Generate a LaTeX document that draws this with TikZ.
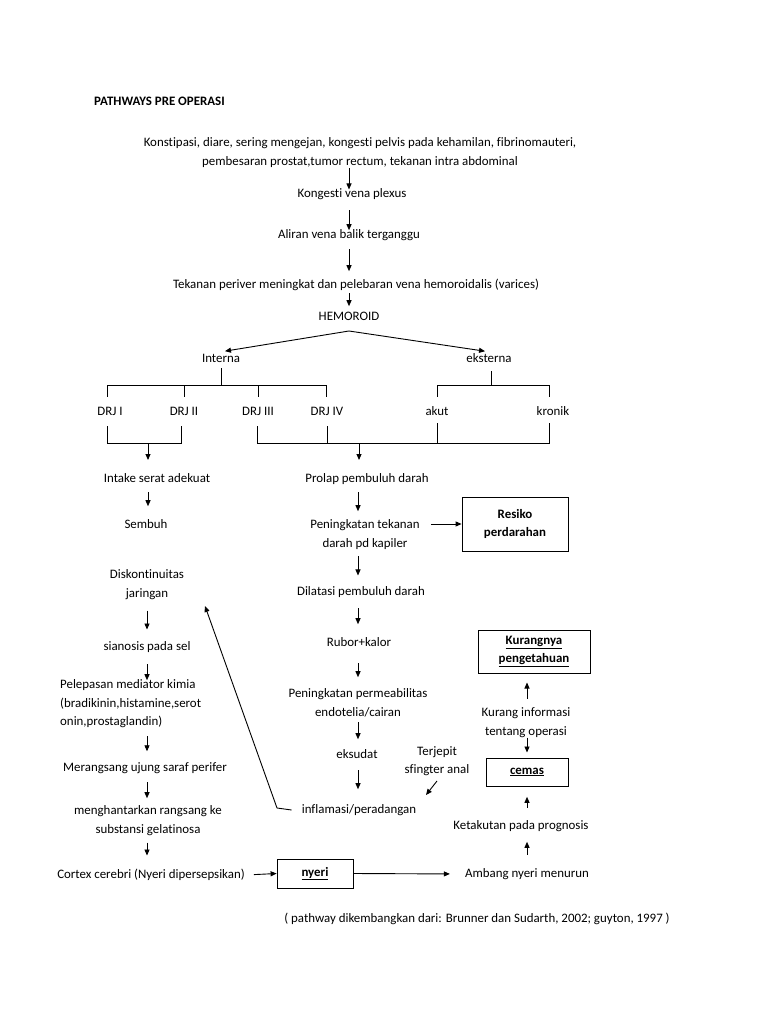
\documentclass[tikz,border=0pt]{standalone}
\usepackage{fontspec}
\setmainfont{Carlito}[Ligatures=NoCommon]
\usepackage{tikz}
\usetikzlibrary{arrows.meta, calc}

\tikzset{
  txtm/.style={inner sep=1pt, align=center, yshift=-2pt, font=\fontsize{12.9}{18.5}\selectfont},
  txt/.style={txtm, text height=9pt, text depth=3pt},
  boxnode/.style={inner sep=1pt, align=center, draw, line width=0.8pt, font=\fontsize{12.9}{18.5}\selectfont\bfseries},
  arr/.style={-{Triangle[length=6pt,width=5pt]}, line width=0.9pt},
  bar/.style={line width=0.8pt}
}

\begin{document}
\begin{tikzpicture}[x=1pt, y=-1pt]
    \fill[white] (0,0) rectangle (768,1024);
    \useasboundingbox (0,0) rectangle (768,1024);

    % Title
    \node[txt, anchor=west, font=\fontsize{12.9}{18.5}\selectfont\bfseries] (title) at (93,101) {PATHWAYS PRE OPERASI};

    % Top chain
    \node[txtm] (konst) at (360,150.5) {Konstipasi, diare, sering mengejan, kongesti pelvis pada kehamilan, fibrinomauteri,\\pembesaran prostat,tumor rectum, tekanan intra abdominal};
    \node[txt] (kongesti) at (352,193) {Kongesti vena plexus};
    \node[txt] (aliran) at (349,234) {Aliran vena balik terganggu};
    \node[txt] (tekanan) at (356,283) {Tekanan periver meningkat dan pelebaran vena hemoroidalis (varices)};
    \node[txt] (hemo) at (349,315) {HEMOROID};

    \coordinate (cA) at (349,0);
    \draw[arr] (konst.south -| cA) ++(0,0) -- ++(0,21);
    \draw[arr] (kongesti.south -| cA) ++(0,8) -- ++(0,20);
    \draw[arr] (aliran.south -| cA) ++(0,6) -- ++(0,22);
    \draw[arr] (tekanan.south -| cA) ++(0,1) -- ++(0,13);

    % Split into interna / eksterna
    \node[txt] (interna) at (221,357) {Interna};
    \node[txt] (eksterna) at (489,357) {eksterna};
    \coordinate (split) at (349,331);
    \draw[arr, shorten >=4pt] (split) -- (interna.north);
    \draw[arr, shorten >=4pt] (split) -- (eksterna.north);

    % Grades
    \node[txt] (drj1) at (110,410) {DRJ I};
    \node[txt] (drj2) at (184,410) {DRJ II};
    \node[txt] (drj3) at (258,410) {DRJ III};
    \node[txt] (drj4) at (327,410) {DRJ IV};
    \node[txt] (akut) at (437,410) {akut};
    \node[txt] (kronik) at (553,410) {kronik};

    % Upper brackets
    \coordinate (iBar) at (221,385);
    \coordinate (eBar) at (491,385);
    \draw[bar] (interna.south) ++(0,2) -- (iBar);
    \draw[bar] (107,385) -- (326,385);
    \draw[bar] (107,385) -- (107,397);
    \draw[bar] (drj2.north |- iBar) -- ++(0,12);
    \draw[bar] (drj3.north |- iBar) -- ++(0,12);
    \draw[bar] (326,385) -- (326,397);
    \draw[bar] (eksterna.south -| eBar) ++(0,5) -- (eBar);
    \draw[bar] (437,385) -- (549,385);
    \draw[bar] (437,385) -- (437,397);
    \draw[bar] (549,385) -- (549,397);

    % Lower brackets
    \coordinate (lowL) at (148,443);
    \coordinate (lowR) at (359,443);
    \draw[bar] (107,426) -- (107,443) -- (181,443) -- (181,426);
    \draw[bar] (257,426) -- (257,443) -- (549,443) -- (549,423);
    \draw[bar] (327,426) -- (327,443);
    \draw[bar] (437,423) -- (437,443);

    % Left branch
    \node[txt] (intake) at (157,477) {Intake serat adekuat};
    \node[txt] (sembuh) at (146,523) {Sembuh};
    \draw[arr] (lowL) -- ++(0,17);
    \draw[arr] (intake.south -| lowL) ++(0,6) -- ++(0,14);

    % Middle chain
    \coordinate (cM) at (358,0);
    \node[txt] (prolap) at (367,477) {Prolap pembuluh darah};
    \node[txtm] (penT) at (365,532.5) {Peningkatan tekanan\\darah pd kapiler};
    \node[txt] (dilatasi) at (361,590) {Dilatasi pembuluh darah};
    \node[txt] (rubor) at (359,641) {Rubor+kalor};
    \node[txtm] (permeab) at (358,701) {Peningkatan permeabilitas\\endotelia/cairan};
    \node[txt] (eksudat) at (357,753) {eksudat};
    \node[txt] (inflam) at (359,808) {inflamasi/peradangan};
    \node[txtm] (terjepit) at (437,759) {Terjepit\\sfingter anal};

    \draw[arr] (lowR) -- ++(0,17);
    \draw[arr] (prolap.south -| cM) ++(0,6) -- ++(0,19);
    \draw[arr] (penT.south -| cM) ++(0,6) -- ++(0,19);
    \draw[arr] (dilatasi.south -| cM) ++(0,9) -- ++(0,16);
    \draw[arr] (rubor.south -| cM) ++(0,13) -- ++(0,14);
    \draw[arr] (permeab.south -| cM) ++(0,4) -- ++(0,17);
    \draw[arr] (eksudat.south -| cM) ++(0,8) -- ++(0,19);
    \draw[arr] (terjepit.south) ++(0,4) -- ++(-11,14);

    % Risk box
    \node[boxnode, minimum width=106pt, minimum height=54pt] (resiko) at (515,524) {Resiko\\perdarahan};
    \draw[arr, shorten <=10pt] (penT.east |- resiko.west) -- (resiko.west);

    % Pain chain
    \coordinate (cL) at (147,0);
    \node[txtm] (disk) at (147,582.5) {Diskontinuitas\\jaringan};
    \node[txt] (sianosis) at (147,645) {sianosis pada sel};
    \node[txtm, anchor=west, align=left] (pelepasan) at (59,702) {Pelepasan mediator kimia\\(bradikinin,histamine,serot\\onin,prostaglandin)};
    \node[txt] (merangsang) at (145,766) {Merangsang ujung saraf perifer};
    \node[txtm] (menghantar) at (148,818.5) {menghantarkan rangsang ke\\substansi gelatinosa};
    \node[txt] (cortex) at (151,873) {Cortex cerebri (Nyeri dipersepsikan)};

    \draw[arr] (disk.south -| cL) ++(0,10) -- ++(0,19);
    \draw[arr] (sianosis.south -| cL) ++(0,10) -- ++(0,16);
    \draw[arr] (pelepasan.south -| cL) ++(0,7) -- ++(0,15);
    \draw[arr] (merangsang.south -| cL) ++(0,7) -- ++(0,16);
    \draw[arr] (menghantar.south -| cL) ++(0,6) -- ++(0,13);

    % Feedback line to jaringan
    \coordinate (inflBend) at (277,808);
    \coordinate (diskTip) at (205,606);
    \draw[arr] (inflam.west) ++(-9,0) -- (inflBend) -- (diskTip);

    % Nyeri row
    \node[boxnode, minimum width=76pt, minimum height=29pt] (nyeri) at (315,873.5) {\underline{nyeri}};
    \node[txt] (ambang) at (527,872) {Ambang nyeri menurun};
    \draw[arr, shorten <=8pt] (cortex.east) -- (nyeri.west);
    \draw[arr, shorten >=14pt] (nyeri.east) -- (ambang.west);

    % Anxiety chain
    \coordinate (cR) at (527,0);
    \node[txt] (ketakutan) at (521,824) {Ketakutan pada prognosis};
    \node[boxnode, minimum width=82pt, minimum height=28pt] (cemas) at (527,772) {\underline{cemas}};
    \node[txtm] (kurang) at (526,720.5) {Kurang informasi\\tentang operasi};
    \node[boxnode, minimum width=112pt, minimum height=43pt] (kurangnya) at (534,651.5) {\underline{Kurangnya}\\\underline{pengetahuan}};

    \draw[arr] (ambang.north -| cR) ++(0,-12) -- ++(0,-13);
    \draw[arr] (ketakutan.north -| cR) ++(0,-11) -- ++(0,-11);
    \draw[arr] (kurang.south -| cR) ++(0,-1) -- ++(0,15);
    \draw[arr] (kurang.north -| cR) ++(0,-8) -- ++(0,-16);

    % Source
    \node[txt] (sumber) at (477,917) {( pathway dikembangkan dari: Brunner dan Sudarth, 2002; guyton, 1997 )};

\end{tikzpicture}
\end{document}
